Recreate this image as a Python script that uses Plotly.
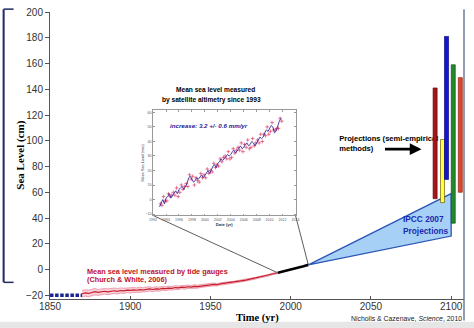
import plotly.graph_objects as go

# ---- data -------------------------------------------------------------
# Early estimate before the tide-gauge record (cm)
early_years = [1850, 1870]
early_level = [-20, -20]

# Tide-gauge reconstruction (Church & White, 2006), cm, every 2 years
gauge_years = list(range(1870, 1993, 2))
gauge_level = [-18.8, -18.2, -18.6, -17.9, -17.2, -17.8, -17.4, -16.9, -17.3, -16.8,
               -16.5, -16.9, -16.3, -16.6, -16.0, -16.2, -15.8, -16.1, -15.6, -15.9,
               -15.4, -15.1, -15.5, -15.0, -15.3, -14.7, -14.9, -14.4, -14.6, -14.0,
               -14.2, -13.7, -13.9, -13.4, -13.6, -13.1, -13.3, -12.8, -12.5, -12.2,
               -11.9, -11.6, -11.8, -11.2, -10.9, -10.6, -10.2, -10.0, -9.4, -9.1,
               -8.6, -8.2, -7.6, -7.4, -6.8, -6.1, -5.8, -5.0, -4.6, -3.7, -3.0, -2.5]
gauge_err = [2.6, 2.5, 2.6, 2.4, 2.5, 2.3, 2.4, 2.2, 2.3, 2.2,
             2.1, 2.2, 2.0, 2.1, 1.9, 2.0, 1.9, 1.8, 1.9, 1.7,
             1.8, 1.7, 1.6, 1.7, 1.6, 1.5, 1.6, 1.5, 1.4, 1.5,
             1.4, 1.3, 1.4, 1.3, 1.2, 1.3, 1.2, 1.1, 1.2, 1.1,
             1.0, 1.1, 1.0, 0.9, 1.0, 0.9, 0.9, 0.8, 0.9, 0.8,
             0.8, 0.7, 0.8, 0.7, 0.7, 0.6, 0.7, 0.6, 0.6, 0.6, 0.5, 0.5]

# Satellite altimetry on the main scale (cm), yearly
sat_years = list(range(1992, 2012))
sat_level = [-2.6, -2.3, -1.9, -1.7, -1.4, -0.9, -0.5, -0.4, 0.0, 0.4,
             0.8, 1.1, 1.3, 1.7, 2.0, 2.2, 2.6, 3.0, 3.2, 3.6]

# IPCC 2007 projection wedge (cm)
ipcc_years = [2011, 2100]
ipcc_low = [3.6, 26]
ipcc_high = [3.6, 59]

# Semi-empirical projections for 2100: ranges (cm)
semi_x = [2090.0, 2094.6, 2097.1, 2101.3, 2105.7]
semi_low = [55, 52, 70, 36, 60]
semi_high = [141, 101, 181, 159, 149]
semi_fill = ["#a3141a", "#ffff3c", "#1414d2", "#22882a", "#e0472a"]
semi_edge = ["#6a0a0e", "#6b5a10", "#0a0a80", "#12561a", "#8a2a18"]
semi_halfwidth = 1.25

# Altimetry detail (mm), quarterly from 1993
alt_start = 1993.0
alt_mean = [-5, -2, 0, -3, 1, 2, 4, 1, 3, 5, 6, 4, 7, 8, 9, 7,
            9, 11, 15, 16, 14, 12, 13, 15, 14, 16, 17, 15, 17, 19, 20, 18,
            21, 23, 24, 22, 25, 26, 28, 27, 28, 30, 31, 30, 31, 33, 34, 32,
            34, 36, 37, 35, 36, 38, 39, 37, 38, 40, 39, 37, 39, 41, 43, 42,
            43, 46, 48, 47, 49, 51, 50, 46, 47, 51, 54, 56]
alt_obs = [-3, -4, 2, -1, -1, 4, 2, 3, 5, 3, 8, 2, 5, 10, 7, 9,
           11, 9, 17, 14, 16, 10, 15, 13, 12, 18, 15, 17, 15, 21, 18, 20,
           19, 25, 22, 24, 23, 28, 26, 29, 30, 28, 33, 28, 29, 35, 32, 34,
           36, 34, 39, 33, 38, 36, 41, 35, 36, 42, 37, 39, 41, 39, 45, 40,
           45, 44, 50, 45, 47, 53, 48, 48, 49, 49, 56, 54]
alt_t = [alt_start + 0.25 * i for i in range(len(alt_mean))]
alt_t_obs = [alt_start + 0.125 + 0.25 * i for i in range(len(alt_obs))]

# ---- axes geometry ------------------------------------------------------
X_RANGE = [1850, 2108]
Y_RANGE = [-22.9, 200]
INSET_X = [0.249, 0.593]
INSET_Y = [0.291, 0.6575]


def to_data(fx, fy):
    return (X_RANGE[0] + fx * (X_RANGE[1] - X_RANGE[0]),
            Y_RANGE[0] + fy * (Y_RANGE[1] - Y_RANGE[0]))


fig = go.Figure()

# text that the projection bars partly cover
fig.add_trace(go.Scatter(
    x=[2030.2, 2030.2], y=[101.5, 93.9], mode="text",
    text=["<b>Projections (semi-empirical</b>", "<b>methods)</b>"],
    textposition="middle right",
    textfont=dict(family="Liberation Sans", size=7.6, color="#000000"),
    hoverinfo="skip", showlegend=False))

# uncertainty envelope of the tide-gauge curve
upper = [v + e for v, e in zip(gauge_level, gauge_err)]
lower = [v - e for v, e in zip(gauge_level, gauge_err)]
fig.add_trace(go.Scatter(
    x=gauge_years + gauge_years[::-1], y=upper + lower[::-1], mode="lines",
    fill="toself", fillcolor="rgba(240,170,185,0.55)",
    line=dict(color="rgba(225,120,145,0.8)", width=0.8),
    hoverinfo="skip", showlegend=False))
fig.add_trace(go.Scatter(
    x=gauge_years, y=gauge_level, mode="lines",
    line=dict(color="#c81e2a", width=1.2), showlegend=False))

fig.add_trace(go.Scatter(
    x=early_years, y=early_level, mode="lines",
    line=dict(color="#1a2590", width=3.5, dash="3.5px,1.6px"), showlegend=False))

fig.add_trace(go.Scatter(
    x=sat_years, y=sat_level, mode="lines",
    line=dict(color="#000000", width=2.6), showlegend=False))

# IPCC wedge
fig.add_trace(go.Scatter(
    x=ipcc_years + ipcc_years[::-1], y=ipcc_low + ipcc_high[::-1], mode="lines",
    fill="toself", fillcolor="#a6d0f5",
    line=dict(color="#2a55b5", width=1.3),
    hoverinfo="skip", showlegend=False))

# semi-empirical range bars
for xc, lo, hi, fc, ec in zip(semi_x, semi_low, semi_high, semi_fill, semi_edge):
    x0, x1 = xc - semi_halfwidth, xc + semi_halfwidth
    fig.add_trace(go.Scatter(
        x=[x0, x1, x1, x0, x0], y=[lo, lo, hi, hi, lo],
        fill="toself", fillcolor=fc, line=dict(color=ec, width=0.7),
        mode="lines", hoverinfo="skip", showlegend=False))

# inset: satellite altimetry
fig.add_trace(go.Scatter(
    x=alt_t_obs, y=alt_obs, mode="markers", xaxis="x2", yaxis="y2",
    marker=dict(symbol="cross-thin", size=2.6,
                line=dict(color="#d8406a", width=0.7)),
    showlegend=False))
fig.add_trace(go.Scatter(
    x=alt_t, y=alt_mean, mode="lines", xaxis="x2", yaxis="y2",
    line=dict(color="#3a2a9a", width=0.9), showlegend=False))

# connectors from the inset to the satellite segment
bl = to_data(INSET_X[0], INSET_Y[0])
br = to_data(INSET_X[1], INSET_Y[0])
FRAME = "#1e2a60"
shapes = [
    dict(type="line", xref="x", yref="y", x0=bl[0], y0=bl[1],
         x1=sat_years[0], y1=sat_level[0], line=dict(color="#333333", width=0.8),
         layer="below"),
    dict(type="line", xref="x", yref="y", x0=br[0], y0=br[1],
         x1=sat_years[-1], y1=sat_level[-1], line=dict(color="#333333", width=0.8),
         layer="below"),
    # slide frame
    dict(type="line", xref="paper", yref="paper", x0=-0.112, x1=-0.112,
         y0=0.058, y1=1.010, line=dict(color=FRAME, width=2)),
    dict(type="line", xref="paper", yref="paper", x0=-0.112, x1=-0.088,
         y0=1.010, y1=1.010, line=dict(color=FRAME, width=1.5)),
    dict(type="line", xref="paper", yref="paper", x0=-0.112, x1=-0.088,
         y0=0.058, y1=0.058, line=dict(color=FRAME, width=1.5)),
    dict(type="line", xref="paper", yref="paper", x0=1.0, x1=1.0,
         y0=-0.075, y1=1.01, line=dict(color="#5a6688", width=1.3)),
    # grey strip along the bottom
    dict(type="rect", xref="paper", yref="paper", x0=-0.2, x1=1.1,
         y0=-0.079, y1=-0.2, fillcolor="#e6e6e6", line=dict(width=0), layer="below"),
]

annotations = [
    dict(x=1871.6, y=-1.3, xref="x", yref="y", xanchor="left", yanchor="middle",
         text="<b>Mean sea level measured by tide gauges</b>", showarrow=False,
         font=dict(family="Liberation Sans", size=7.3, color="#c0102a")),
    dict(x=1871.6, y=-7.6, xref="x", yref="y", xanchor="left", yanchor="middle",
         text="<b>(Church &amp; White, 2006)</b>", showarrow=False,
         font=dict(family="Liberation Sans", size=7.3, color="#c0102a")),
    dict(x=1953.0, y=139.5, xref="x", yref="y", xanchor="center", yanchor="middle",
         text="<b>Mean sea level measured</b>", showarrow=False,
         font=dict(family="Liberation Sans", size=6.6, color="#000000")),
    dict(x=1950.8, y=131.5, xref="x", yref="y", xanchor="center", yanchor="middle",
         text="<b>by satellite altimetry since 1993</b>", showarrow=False,
         font=dict(family="Liberation Sans", size=6.6, color="#000000")),
    dict(x=1948.8, y=112.2, xref="x", yref="y", xanchor="center", yanchor="middle",
         text="<b><i>increase: 3.2 +/- 0.6 mm/yr</i></b>", showarrow=False,
         font=dict(family="Liberation Sans", size=6.2, color="#1a1a9a")),
    dict(x=2083.0, y=39.5, xref="x", yref="y", xanchor="center", yanchor="middle",
         text="<b>IPCC 2007</b>", showarrow=False,
         font=dict(family="Liberation Sans", size=8.3, color="#1a2ab0")),
    dict(x=2084.6, y=30.3, xref="x", yref="y", xanchor="center", yanchor="middle",
         text="<b>Projections</b>", showarrow=False,
         font=dict(family="Liberation Sans", size=8.3, color="#1a2ab0")),
    dict(x=2081.5, y=93.5, xref="x", yref="y", ax=-38, ay=0, text="",
         showarrow=True, arrowhead=2, arrowsize=0.9, arrowwidth=2.6,
         arrowcolor="#000000"),
    dict(x=0.5, y=-0.066, xref="paper", yref="paper", xanchor="center",
         yanchor="middle", text="<b>Time (yr)</b>", showarrow=False,
         font=dict(family="Liberation Serif", size=10.5, color="#000000")),
    dict(x=-0.072, y=0.5, xref="paper", yref="paper", xanchor="center",
         yanchor="middle", textangle=-90,
         text="<b>Sea Level (cm)</b>", showarrow=False,
         font=dict(family="Liberation Serif", size=11, color="#000000")),
    dict(x=0.722, y=-0.067, xref="paper", yref="paper", xanchor="left",
         yanchor="middle", text="Nicholls &amp; Cazenave, <i>Science</i>, 2010",
         showarrow=False,
         font=dict(family="Liberation Sans", size=6.9, color="#222222")),
]

fig.update_layout(
    width=474, height=328,
    margin=dict(l=50, r=6, t=7, b=29),
    paper_bgcolor="white", plot_bgcolor="white",
    showlegend=False,
    xaxis=dict(range=X_RANGE, tickvals=[1850, 1900, 1950, 2000, 2050, 2100],
               showgrid=False, zeroline=False, showline=True, linecolor="#555555",
               linewidth=1, ticks="inside", ticklen=3, tickcolor="#555555",
               ticklabelstandoff=-2,
               tickfont=dict(family="Liberation Sans", size=10, color="#333333")),
    yaxis=dict(range=Y_RANGE, tickvals=list(range(-20, 201, 20)),
               showgrid=False, zeroline=False, showline=True, linecolor="#555555",
               linewidth=1, ticks="outside", ticklen=4, tickcolor="#555555",
               tickfont=dict(family="Liberation Sans", size=10, color="#333333")),
    xaxis2=dict(domain=INSET_X, anchor="y2", range=[1992, 2014],
                tickvals=list(range(1992, 2015, 2)), showgrid=False, zeroline=False,
                showline=True, mirror="ticks", linecolor="#999999", linewidth=0.8,
                ticks="inside", ticklen=2, tickcolor="#999999",
                tickfont=dict(family="Liberation Sans", size=3.6, color="#555555"),
                title=dict(text="<b>Date (yr)</b>", standoff=1,
                           font=dict(family="Liberation Sans", size=4.2, color="#333333"))),
    yaxis2=dict(domain=INSET_Y, anchor="x2", range=[-11, 61.5],
                tickvals=list(range(-10, 61, 10)), showgrid=False, zeroline=False,
                showline=True, mirror="ticks", linecolor="#999999", linewidth=0.8,
                ticks="inside", ticklen=2, tickcolor="#999999",
                tickfont=dict(family="Liberation Sans", size=3.6, color="#555555"),
                title=dict(text="Mean Sea Level (mm)", standoff=1,
                           font=dict(family="Liberation Sans", size=3.8, color="#333333"))),
    shapes=shapes,
    annotations=annotations,
)

fig.write_html("out.html")
